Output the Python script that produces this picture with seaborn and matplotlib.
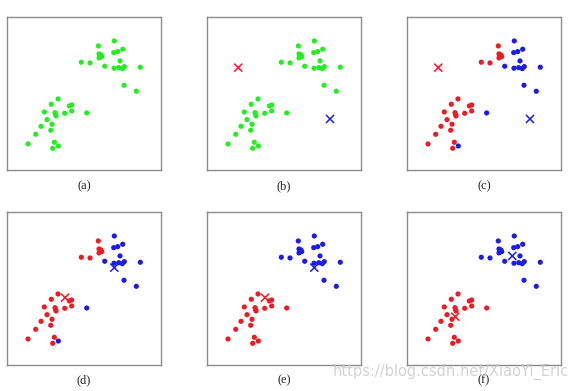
import pandas as pd
import matplotlib
matplotlib.use("Agg")
import matplotlib.pyplot as plt
import seaborn as sns

# ===============================
# Data (standardised)
# ===============================
x_vals = [0.790, 0.373, 1.009, 0.879, 0.775, 0.391, 0.443, 0.462, 0.391, -0.070,
          0.157, 0.939, 0.540, 0.782, 0.905, 0.999, 1.051, 1.468, 1.043, 1.364,
          -0.678, -0.853, -0.383, -0.321, -1.035, -0.756, -0.738, -0.730, -0.503, -0.321,
          0.070, -0.965, -0.834, -1.121, -0.868, -1.259, -1.460, -0.774, -0.670, -0.816]
y_vals = [1.380, 1.250, 1.163, 1.101, 1.075, 1.041, 1.014, 0.970, 0.936, 0.824,
          0.805, 0.858, 0.719, 0.667, 0.682, 0.656, 0.709, 0.693, 0.222, 0.065,
          -0.136, -0.274, -0.319, -0.293, -0.476, -0.494, -0.546, -0.580, -0.510, -0.450,
          -0.502, -0.677, -0.797, -0.850, -0.954, -1.059, -1.312, -1.268, -1.365, -1.425]

# cluster labels per step (0 = red, 1 = blue)
labels_c = [1, 0, 1, 1, 1, 0, 0, 0, 0, 0,
            0, 1, 1, 1, 1, 1, 1, 1, 1, 1,
            0, 0, 0, 0, 0, 0, 0, 0, 0, 0,
            1, 0, 0, 0, 0, 0, 0, 0, 1, 0]
labels_e = [1] * 20 + [0] * 20

# centroids (red, blue) for each panel
cent_b = [(-1.192, 0.682), (1.200, -0.659)]
cent_d = [(-0.495, -0.233), (0.790, 0.552)]
cent_f = [(-0.748, -0.729), (0.738, 0.858)]

panel_names = ["(a)", "(b)", "(c)", "(d)", "(e)", "(f)"]
panel_labels = [None, None, labels_c, labels_c, labels_e, labels_e]
panel_cents = [None, cent_b, cent_b, cent_d, cent_d, cent_f]

RED = "#ec1c24"
BLUE = "#1c1ce8"
GREEN = "#22ee22"

# ===============================
# Figure
# ===============================
sns.set_style("white")
fig = plt.figure(figsize=(5.75, 3.91), dpi=100)

lefts = [0.0127, 0.3605, 0.7083]
bottoms = [0.5645, 0.0657]
w, h = 0.2668, 0.3915

for i, name in enumerate(panel_names):
    row, col = divmod(i, 3)
    ax = fig.add_axes([lefts[col], bottoms[row], w, h])
    df = pd.DataFrame({"x": x_vals, "y": y_vals})
    if panel_labels[i] is None:
        sns.scatterplot(data=df, x="x", y="y", color=GREEN, s=14,
                        edgecolor="none", ax=ax, legend=False)
    else:
        df["k"] = panel_labels[i]
        sns.scatterplot(data=df, x="x", y="y", hue="k",
                        palette={0: RED, 1: BLUE}, s=14,
                        edgecolor="none", ax=ax, legend=False)
    if panel_cents[i] is not None:
        cdf = pd.DataFrame({"x": [c[0] for c in panel_cents[i]],
                            "y": [c[1] for c in panel_cents[i]],
                            "k": [0, 1]})
        sns.scatterplot(data=cdf, x="x", y="y", hue="k",
                        palette={0: RED, 1: BLUE}, marker="x", s=34,
                        linewidth=1.1, ax=ax, legend=False)
    ax.set_xlim(-2, 2)
    ax.set_ylim(-2, 2)
    ax.set_xticks([])
    ax.set_yticks([])
    ax.set_xlabel("")
    ax.set_ylabel("")
    for sp in ax.spines.values():
        sp.set_color("#8c8c8c")
        sp.set_linewidth(1.0)
    label_y = 0.5225 if row == 0 else 0.028
    fig.text(lefts[col] + w / 2, label_y, name, ha="center", va="center",
             fontsize=9, family=["Liberation Serif", "DejaVu Serif"], color="#222222")

# watermark
fig.text(0.99, 0.05, "https://blog.csdn.net/XiaoYi_Eric", ha="right", va="center",
         fontsize=10.5, color="#c8c8c8", alpha=0.8, family="DejaVu Sans")

plt.savefig("out.png", dpi=100)
